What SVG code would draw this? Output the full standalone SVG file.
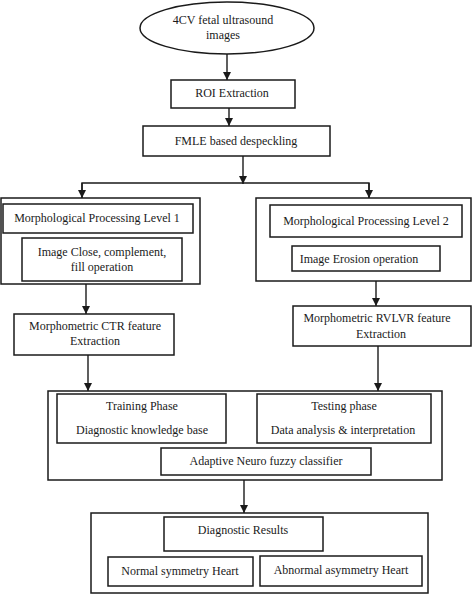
<svg xmlns="http://www.w3.org/2000/svg" width="474" height="594" viewBox="0 0 474 594">
<defs>
<marker id="ah" viewBox="0 0 8 8" refX="8" refY="4" markerWidth="8" markerHeight="8" markerUnits="userSpaceOnUse" orient="auto">
<path d="M0,0 L8,4 L0,8 z" fill="#1a1a1a"/>
</marker>
</defs>
<style>
rect, ellipse { fill: #fff; stroke: #1a1a1a; stroke-width: 1.5; }
text { font-family: "Liberation Serif", "Times New Roman", serif; font-size: 12px; fill: #1a1a1a; text-anchor: middle; }
.c { fill: none; stroke: #1a1a1a; stroke-width: 1.4; }
</style>
<rect x="0" y="0" width="474" height="594" style="fill:#fff;stroke:none"/>

<g id="connectors">
<line class="c" x1="227" y1="54" x2="227" y2="80" marker-end="url(#ah)"/>
<line class="c" x1="229" y1="108" x2="229" y2="126" marker-end="url(#ah)"/>
<line class="c" x1="243" y1="156" x2="243" y2="184" marker-end="url(#ah)"/>
<polyline class="c" points="82,198 82,183 369,183 369,198"/>
<line class="c" x1="82" y1="183" x2="82" y2="198" marker-end="url(#ah)"/>
<line class="c" x1="369" y1="183" x2="369" y2="198" marker-end="url(#ah)"/>
<line class="c" x1="86" y1="284" x2="86" y2="314" marker-end="url(#ah)"/>
<line class="c" x1="376" y1="281" x2="376" y2="306" marker-end="url(#ah)"/>
<line class="c" x1="88" y1="355" x2="88" y2="391" marker-end="url(#ah)"/>
<line class="c" x1="378" y1="346" x2="378" y2="391" marker-end="url(#ah)"/>
<line class="c" x1="244" y1="480" x2="244" y2="513" marker-end="url(#ah)"/>
</g>

<g id="input">
<ellipse cx="227" cy="28" rx="87" ry="26"/>
<text x="223" y="24">4CV fetal ultrasound</text>
<text x="223" y="39">images</text>
</g>

<g id="roi">
<rect x="171" y="80" width="124" height="28"/>
<text x="232" y="97">ROI Extraction</text>
</g>

<g id="fmle">
<rect x="143" y="126" width="187" height="30"/>
<text x="236" y="145">FMLE based despeckling</text>
</g>

<g id="morph1">
<rect x="1" y="198" width="199" height="86"/>
<rect x="3" y="204" width="190" height="29"/>
<text x="97" y="222">Morphological Processing Level 1</text>
<rect x="22" y="238" width="160" height="43"/>
<text x="102" y="256">Image Close, complement,</text>
<text x="102" y="271">fill operation</text>
</g>

<g id="morph2">
<rect x="256" y="198" width="215" height="83"/>
<rect x="270" y="205" width="192" height="32"/>
<text x="366" y="225">Morphological Processing Level 2</text>
<rect x="292" y="246" width="148" height="25"/>
<text x="359" y="263">Image Erosion operation</text>
</g>

<g id="ctr">
<rect x="14" y="314" width="160" height="41"/>
<text x="95" y="330">Morphometric CTR feature</text>
<text x="95" y="345">Extraction</text>
</g>

<g id="rvlvr">
<rect x="293" y="306" width="178" height="40"/>
<text x="377" y="322">Morphometric RVLVR feature</text>
<text x="381" y="338">Extraction</text>
</g>

<g id="classifier">
<rect x="48" y="391" width="394" height="89"/>
<rect x="57" y="394" width="169" height="49"/>
<text x="142" y="410">Training Phase</text>
<text x="142" y="434">Diagnostic knowledge base</text>
<rect x="257" y="394" width="174" height="49"/>
<text x="344" y="410">Testing phase</text>
<text x="343" y="434">Data analysis &amp; interpretation</text>
<rect x="161" y="448" width="210" height="27"/>
<text x="266" y="465">Adaptive Neuro fuzzy classifier</text>
</g>

<g id="results">
<rect x="91" y="513" width="337" height="80"/>
<rect x="164" y="517" width="159" height="34"/>
<text x="243" y="534">Diagnostic Results</text>
<rect x="108" y="557" width="145" height="29"/>
<text x="180" y="575">Normal symmetry Heart</text>
<rect x="260" y="556" width="162" height="30"/>
<text x="341" y="574">Abnormal asymmetry Heart</text>
</g>
</svg>
